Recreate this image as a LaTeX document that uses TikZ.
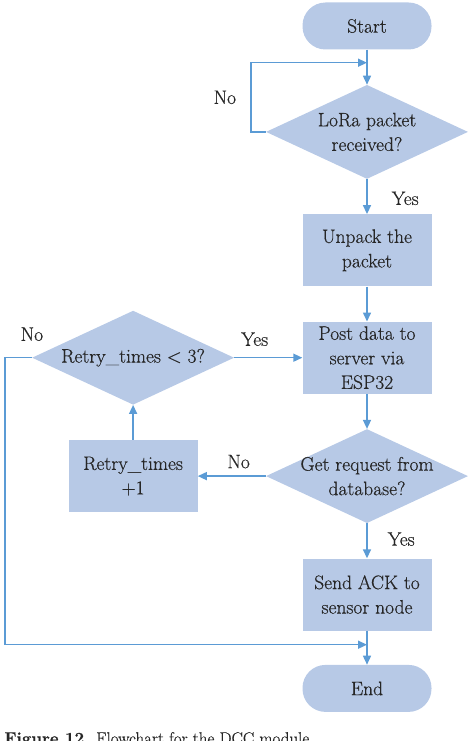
\documentclass[tikz,border=0pt]{standalone}
\usepackage{fontspec}
\setmainfont{Latin Modern Roman}[FakeBold=0.5]
\usepackage{tikz}
\usetikzlibrary{positioning}
\usetikzlibrary{shapes.geometric}
\usetikzlibrary{arrows.meta}
\definecolor{boxfill}{RGB}{183,201,230}
\definecolor{flowline}{RGB}{91,155,213}

\begin{document}
\begin{tikzpicture}[
  x=1pt,y=-1pt,node distance=35pt,
  every node/.style={font=\fontsize{19.5}{24.5}\selectfont,text=black!85},
  terminal/.style={rectangle,rounded corners=23pt,fill=boxfill,minimum width=129pt,minimum height=47pt},
  process/.style={rectangle,fill=boxfill,align=center,minimum width=129pt,minimum height=72pt,inner sep=0pt},
  decision/.style={diamond,fill=boxfill,minimum width=202pt,minimum height=94pt,inner sep=0pt},
  flow/.style={draw=flowline,line width=1.5pt,-{Triangle[length=9pt,width=8pt]}},
  tag/.style={inner sep=0pt}
  ]
  \useasboundingbox (0,0) rectangle (474,741);
  % main column
  \node (start)   [terminal] at (367,26) {Start};
  \node (lora)    [decision,below=of start,label={[align=center]center:LoRa packet\\received?}] {};
  \node (unpack)  [process,below=of lora] {Unpack the\\packet};
  \node (post)    [process,below=of unpack] {Post data to\\server via\\ESP32};
  \node (getreq)  [decision,below=of post,label={[align=center]center:Get request from\\database?}] {};
  \node (send)    [process,below=of getreq] {Send ACK to\\sensor node};
  \node (finish)  [terminal,below=34pt of send] {End};
  % retry branch
  \node (retry)   [decision,left=68pt of post,label={center:Retry\_times < 3?}] {};
  \node (inc)     [process,left=68pt of getreq] {Retry\_times\\+1};
  \coordinate [below=13pt of start.south] (joinA);
  \coordinate [below=14pt of send.south] (joinB);

  \draw[flow] (start) -- (lora);
  \draw[flow] (lora.west) -- ++(-15,0) |- node[tag,pos=.25,left=14pt] {No} (joinA);
  \draw[flow] (lora) -- node[tag,pos=.55,right=24pt] {Yes} (unpack);
  \draw[flow] (unpack) -- (post);
  \draw[flow] (post) -- (getreq);
  \draw[flow] (getreq) -- node[tag,pos=.45,right=20pt] {Yes} (send);
  \draw[flow] (send) -- (finish);
  \draw[flow] (getreq) -- node[tag,pos=.4,above=7pt] {No} (inc);
  \draw[flow] (inc) -- (retry);
  \draw[flow] (retry) -- node[tag,pos=.3,above=11pt] {Yes} (post);
  \draw[flow] (retry.west) node[tag,above=16pt] {No} -- ++(-27,0) |- (joinB);

  \node (caption) [anchor=base west,font=\fontsize{17}{20}\selectfont] at (1,744) {\textbf{Figure 12.} Flowchart for the DCC module};
\end{tikzpicture}
\end{document}
